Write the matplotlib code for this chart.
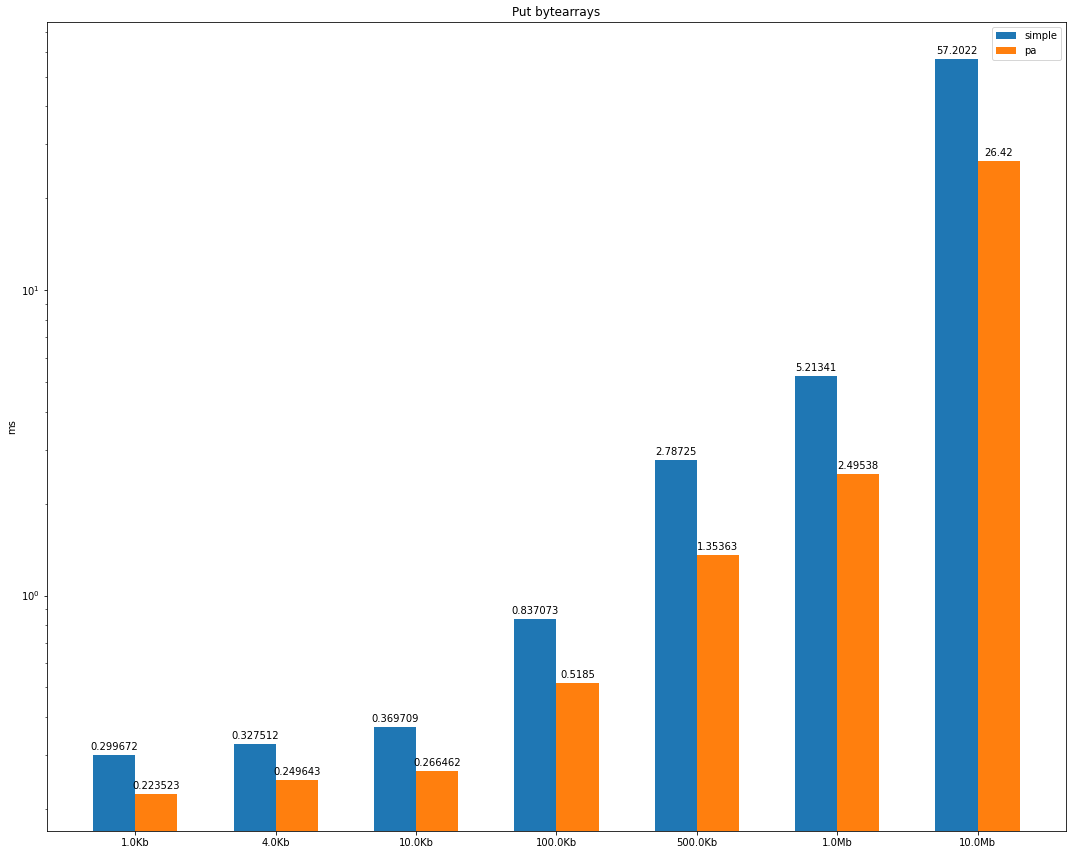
import numpy as np
import matplotlib
matplotlib.use('Agg')
import matplotlib.pyplot as plt

sizes = ['1.0Kb', '4.0Kb', '10.0Kb', '100.0Kb', '500.0Kb', '1.0Mb', '10.0Mb']
simple = [0.299672, 0.327512, 0.369709, 0.837073, 2.78725, 5.21341, 57.2022]
pa = [0.223523, 0.249643, 0.266462, 0.5185, 1.35363, 2.49538, 26.42]

x = np.arange(len(sizes))
width = 0.3

fig, ax = plt.subplots(figsize=(1072/72, 856/72), dpi=72)
fig.subplots_adjust(left=0.0438, right=0.9944, top=0.9743, bottom=0.0292)

b1 = ax.bar(x - width/2, simple, width, label='simple')
b2 = ax.bar(x + width/2, pa, width, label='pa')
ax.set_yscale('log')
ax.bar_label(b1, padding=3)
ax.bar_label(b2, padding=3)

ax.set_ylabel('ms')
ax.set_title('Put bytearrays')
ax.set_xticks(x)
ax.set_xticklabels(sizes)
ax.legend()

fig.savefig('out.png', dpi=72)
